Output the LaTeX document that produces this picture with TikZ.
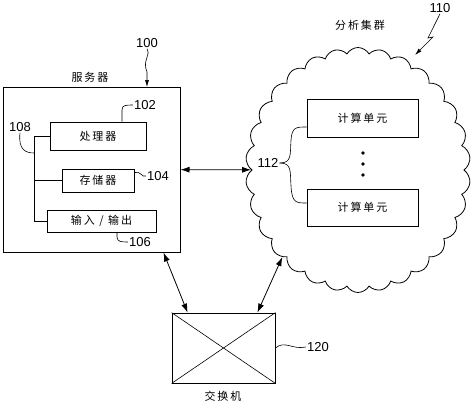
\documentclass[tikz,border=0pt]{standalone}
\usepackage{fontspec}
\setmainfont{Liberation Sans}
\newfontfamily\cjk[LetterSpace=18]{Noto Sans CJK SC}
\usetikzlibrary{shapes.symbols,arrows.meta}
\tikzstyle{partbox} = [draw, line width=0.8pt, inner sep=0pt, font=\cjk\fontsize{11}{11}\selectfont]
\tikzstyle{reflabel} = [inner sep=1pt, font=\fontsize{13}{13}\selectfont]
\tikzstyle{leader} = [line width=0.6pt]
\tikzstyle{link} = [line width=0.8pt, {Latex[length=9pt,width=6pt]}-{Latex[length=9pt,width=6pt]}]
\newcommand{\cjktext}[1]{{\cjk\fontsize{11}{11}\selectfont #1}}

\begin{document}
\begin{tikzpicture}[x=1pt,y=-1pt]
	\useasboundingbox (0,0) rectangle (474,402);

	% server
	\node(server) at (91.5,169.5) [draw, line width=1pt, minimum width=177, minimum height=165] {};
	\node(servername) at (90,77) {\cjktext{服务器}};
	\node(proc) at (98,136) [partbox, minimum width=96, minimum height=28] {处理器};
	\node(stor) at (98,180.5) [partbox, minimum width=72, minimum height=23] {存储器};
	\node(io) at (101.5,221) [partbox, minimum width=109, minimum height=22] {输入 / 输出};
	\coordinate(bus) at (34,136);
	\coordinate(bus108) at (34,153);
	\draw[leader] (proc.west) -- (bus) |- (io.west);
	\draw[leader] (stor.west) -- (stor.west -| bus);

	% cluster
	\node(cluster) at (358,170) [cloud, draw, line width=0.8pt, cloud puffs=30, cloud puff arc=120, minimum width=225, minimum height=245] {};
	\node(clustername) at (360,25) {\cjktext{分析集群}};
	\node(unit1) at (362.5,118) [partbox, minimum width=111, minimum height=38] {计算单元};
	\node(unit2) at (362.5,207.5) [partbox, minimum width=111, minimum height=37] {计算单元};
	\foreach \y in {153,164,175}
		\fill (363,\y) circle (1.8);

	% switch
	\node(switch) at (223.5,348) [draw, line width=0.8pt, minimum width=103, minimum height=70] {};
	\draw[leader] (switch.north west) -- (switch.south east);
	\draw[leader] (switch.south west) -- (switch.north east);
	\node(switchname) at (223,396) {\cjktext{交换机}};

	% links
	\draw[link] (server) -- (cluster);
	\draw[link] ([xshift=-17]server.south east) -- ([xshift=16]switch.north west);
	\draw[link] (cluster.229) -- ([xshift=-18]switch.north east);

	% reference numerals
	\node(l100) at (147,43) [reflabel] {100};
	\draw[leader, -{Latex[length=7pt,width=4pt]}] (l100.south) .. controls (151,56) and (142,60) .. (147,72) -- (147,87);
	\node(l102) at (145,105) [reflabel] {102};
	\draw[leader] (proc.north -| 122,0) -- (122,110) .. controls (122,105) and (126,105) .. (l102.west);
	\node(l104) at (158,176) [reflabel] {104};
	\draw[leader] (stor.north east) ++(0,4) .. controls (140,170) and (142,178) .. (l104.west);
	\node(l106) at (140,242) [reflabel] {106};
	\draw[leader] (io.south -| 117,0) -- (117,237) .. controls (117,242) and (122,242) .. (l106.west);
	\node(l108) at (20,127) [reflabel] {108};
	\draw[leader] (l108.south) .. controls (18,150) and (26,153) .. (bus108);
	\node(l110) at (440,8) [reflabel] {110};
	\draw[leader, -{Latex[length=7pt,width=4pt]}] (l110.south) -- (428,38) -- (433,37) -- (415,55);
	\node(l112) at (268,163) [reflabel] {112};
	\draw[leader] (l112.east) .. controls (292,163) and (290,155) .. (291,140) .. controls (292,127) and (296,127) .. (unit1.west |- 0,127);
	\draw[leader] (l112.east) .. controls (292,163) and (290,171) .. (291,186) .. controls (292,203) and (296,203) .. (unit2.west |- 0,203);
	\node(l120) at (318,347) [reflabel] {120};
	\draw[leader] (switch.east) .. controls (285,340) and (292,350) .. (l120.west);
\end{tikzpicture}
\end{document}
